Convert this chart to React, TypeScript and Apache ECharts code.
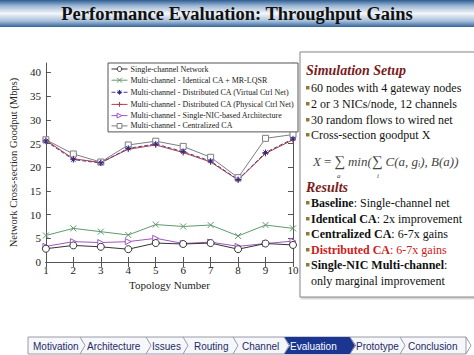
import React, { useEffect, useRef } from "react";
import * as echarts from "echarts";

const topology = [1, 2, 3, 4, 5, 6, 7, 8, 9, 10];
const singleChannel = [2.8, 3.5, 3.2, 2.7, 4.0, 3.8, 4.0, 2.7, 3.9, 3.6];
const identicalCA = [5.6, 7.1, 6.4, 5.7, 7.9, 7.5, 7.8, 5.5, 7.8, 7.1];
const distVirtual = [25.5, 21.6, 20.9, 24.0, 24.9, 23.3, 21.3, 17.4, 23.1, 26.0];
const distPhysical = [25.7, 21.8, 21.0, 23.8, 24.7, 23.1, 21.1, 17.3, 22.9, 25.8];
const singleNIC = [3.3, 4.3, 4.1, 4.3, 5.0, 3.9, 4.2, 3.3, 3.9, 4.4];
const centralized = [25.8, 22.8, 21.1, 24.7, 25.5, 24.4, 22.1, 17.8, 26.1, 26.9];

const seriesNames = [
  "Single-channel Network",
  "Multi-channel - Identical CA + MR-LQSR",
  "Multi-channel - Distributed CA (Virtual Ctrl Net)",
  "Multi-channel - Distributed CA (Physical Ctrl Net)",
  "Multi-channel - Single-NIC-based Architecture",
  "Multi-channel - Centralized CA",
];

const navItems = ["Motivation", "Architecture", "Issues", "Routing", "Channel", "Evaluation", "Prototype", "Conclusion"];
const navTextX = [33, 87, 152, 194, 242, 290, 356, 408];
const navSepX = [80, 146, 183, 233, 284, 350, 400];

const setupLines = [
  "60 nodes with 4 gateway nodes",
  "2 or 3 NICs/node, 12 channels",
  "30 random flows to wired net",
  "Cross-section goodput X",
];

const SERIF = "Liberation Serif";
const SANS = "Liberation Sans";

const pairs = (ys: number[]) => topology.map((x, i) => [x, ys[i]]);

const txt = (x: number, y: number, text: string, o: any = {}) => ({
  type: "text",
  x,
  y,
  z: o.z ?? 5,
  style: {
    text,
    fontFamily: o.family ?? SERIF,
    fontSize: o.size ?? 12,
    fontWeight: o.weight ?? "normal",
    fontStyle: o.style ?? "normal",
    fill: o.fill ?? "#111",
    align: o.align ?? "left",
    verticalAlign: "middle",
    rich: o.rich,
  },
});

export default function App() {
  const ref = useRef<HTMLDivElement>(null);
  useEffect(() => {
    if (!ref.current) return;
    const chart = echarts.init(ref.current, null, { renderer: "svg" });

    const mk = (name: string, data: number[], color: string, symbol: string, extra: any = {}) => ({
      type: "line",
      name,
      data: pairs(data),
      xAxisIndex: 0,
      yAxisIndex: 0,
      symbol,
      symbolSize: 6,
      lineStyle: { color, width: 1 },
      itemStyle: { color: "#fff", borderColor: color, borderWidth: 1 },
      ...extra,
    });

    const bullet = (y: number) => ({ type: "rect", shape: { x: 306, y: y - 2, width: 3.5, height: 3.5 }, style: { fill: "#8c7a3c" } });

    const els: any[] = [];
    const setupY = [88, 104, 120, 135];
    setupLines.forEach((t, i) => {
      els.push(bullet(setupY[i]));
      els.push(txt(311, setupY[i], t));
    });

    const boldRich = {
      b: { fontFamily: SERIF, fontSize: 12, fontWeight: "bold", fill: "#111" },
      r: { fontFamily: SERIF, fontSize: 12, fontWeight: "bold", fill: "#cc2020" },
    };
    const results = [
      { y: 203, text: "{b|Baseline}: Single-channel net", color: "#111" },
      { y: 219, text: "{b|Identical CA}: 2x improvement", color: "#111" },
      { y: 234, text: "{b|Centralized CA}: 6-7x gains", color: "#111" },
      { y: 250, text: "{r|Distributed CA}: 6-7x gains", color: "#cc2020" },
      { y: 265, text: "{b|Single-NIC Multi-channel}:", color: "#111" },
    ];
    results.forEach((r) => {
      els.push(bullet(r.y));
      els.push(txt(311, r.y, r.text, { fill: r.color, rich: boldRich }));
    });
    els.push(txt(311, 281, "only marginal improvement"));

    // formula
    const fi = { fontFamily: SERIF, fontSize: 13, fontStyle: "italic", fill: "#444" };
    els.push(
      txt(313, 161, "{i|X} {n|=} {s|∑} {i|min(}{s|∑} {i|C(a, g}{sub|i}{i|), B(a))}", {
        fill: "#444",
        rich: {
          i: fi,
          n: { fontFamily: SERIF, fontSize: 13, fill: "#444" },
          s: { fontFamily: SERIF, fontSize: 15, fill: "#444" },
          sub: { fontFamily: SERIF, fontSize: 8, fontStyle: "italic", fill: "#444", padding: [6, 0, 0, 0] },
        },
      })
    );
    els.push(txt(337, 176, "a", { size: 7, style: "italic", fill: "#444" }));
    els.push(txt(377, 176, "i", { size: 7, style: "italic", fill: "#444" }));

    const nav: any[] = [
      { type: "rect", shape: { x: 28, y: 337, width: 438, height: 17 }, style: { fill: "#f6f7fb", stroke: "#9a9aa8", lineWidth: 1 } },
      {
        type: "polygon",
        shape: { points: [[284, 337], [350, 337], [356, 345.5], [350, 354], [284, 354], [290, 345.5]] },
        style: { fill: "#1b3690" },
      },
      { type: "polyline", shape: { points: [[466, 337], [471, 345.5], [466, 354]] }, style: { stroke: "#9a9aa8", fill: null, lineWidth: 1 } },
    ];
    navSepX.forEach((sx) => {
      nav.push({ type: "polyline", shape: { points: [[sx, 337], [sx + 5, 345.5], [sx, 354]] }, style: { stroke: "#9a9aa8", fill: null, lineWidth: 1 } });
    });
    navItems.forEach((t, i) => {
      nav.push(txt(navTextX[i], 346, t, { family: SANS, size: 10, fill: t === "Evaluation" ? "#ffffff" : "#1e2a66", z: 10 }));
    });

    const option: any = {
      animation: false,
      backgroundColor: "#ffffff",
      grid: { left: 33, right: 181, top: 63, bottom: 93 },
      xAxis: [
        {
          type: "value",
          min: 1,
          max: 10,
          interval: 1,
          name: "Topology Number",
          nameLocation: "middle",
          nameGap: 12,
          nameTextStyle: { fontFamily: SERIF, fontSize: 11, color: "#222" },
          axisLine: { lineStyle: { color: "#555" } },
          axisTick: { inside: true, length: 5, lineStyle: { color: "#555" } },
          axisLabel: { fontFamily: SERIF, fontSize: 11, color: "#222", margin: 2 },
          splitLine: { show: false },
        },
        {
          type: "value",
          position: "top",
          min: 1,
          max: 10,
          interval: 1,
          axisLine: { lineStyle: { color: "#555" } },
          axisTick: { inside: true, length: 5, lineStyle: { color: "#555" } },
          axisLabel: { show: false },
          splitLine: { show: false },
        },
      ],
      yAxis: [
        {
          type: "value",
          min: 0,
          max: 42,
          interval: 5,
          name: "Network Cross-section Goodput (Mbps)",
          nameLocation: "middle",
          nameGap: 16,
          nameTextStyle: { fontFamily: SERIF, fontSize: 10.5, color: "#222" },
          axisLine: { lineStyle: { color: "#555" } },
          axisTick: { inside: true, length: 5, lineStyle: { color: "#555" } },
          axisLabel: { fontFamily: SERIF, fontSize: 11, color: "#222", margin: 5, showMaxLabel: false },
          splitLine: { show: false },
        },
        {
          type: "value",
          position: "right",
          min: 0,
          max: 42,
          interval: 5,
          axisLine: { show: true, lineStyle: { color: "#555" } },
          axisTick: { show: true, inside: true, length: 5, lineStyle: { color: "#555" } },
          axisLabel: { show: false },
          splitLine: { show: false },
        },
      ],
      legend: {
        orient: "vertical",
        left: 108,
        top: 63,
        backgroundColor: "#ffffff",
        borderColor: "#555",
        borderWidth: 1,
        borderRadius: 0,
        padding: [2, 4, 2, 3],
        itemGap: 2.3,
        itemWidth: 16,
        itemHeight: 6,
        lineStyle: { width: 1 },
        itemStyle: { borderWidth: 1 },
        textStyle: { fontFamily: SERIF, fontSize: 8, color: "#222", padding: [0, 0, 0, -2] },
        data: seriesNames,
      },
      series: [
        mk(seriesNames[5], centralized, "#7d7d85", "rect"),
        mk(seriesNames[3], distPhysical, "#b04048", "path://M5,0L5,10M0,5L10,5", { itemStyle: { color: "none", borderColor: "#b04048", borderWidth: 1 } }),
        mk(seriesNames[2], distVirtual, "#2c2c88", "path://M5,0L5,10M0,5L10,5M1.5,1.5L8.5,8.5M8.5,1.5L1.5,8.5", {
          itemStyle: { color: "none", borderColor: "#2c2c88", borderWidth: 1 },
          lineStyle: { color: "#5a3a90", width: 1, type: [4, 2] },
        }),
        mk(seriesNames[4], singleNIC, "#a055c0", "triangle", { symbolRotate: -90 }),
        mk(seriesNames[1], identicalCA, "#5f9a6e", "path://M0,0L10,10M10,0L0,10", { itemStyle: { color: "none", borderColor: "#5f9a6e", borderWidth: 1 } }),
        mk(seriesNames[0], singleChannel, "#333333", "circle", { symbolSize: 7 }),
      ],
      graphic: [
        {
          type: "rect",
          shape: { x: 0, y: 0, width: 474, height: 27 },
          style: {
            fill: new echarts.graphic.LinearGradient(0, 0, 0, 1, [
              { offset: 0, color: "#2d5d93" },
              { offset: 0.22, color: "#9fb8d4" },
              { offset: 0.5, color: "#f3f6fa" },
              { offset: 0.78, color: "#a7bfd9" },
              { offset: 1, color: "#33659c" },
            ]),
          },
        },
        txt(237, 14, "Performance Evaluation: Throughput Gains", { size: 18.5, weight: "bold", align: "center" }),
        {
          type: "rect",
          shape: { x: 300, y: 52, width: 180, height: 245 },
          style: { fill: "#fff", stroke: "#888", lineWidth: 1, shadowBlur: 2, shadowColor: "rgba(0,0,0,0.3)", shadowOffsetX: 1, shadowOffsetY: 1 },
        },
        txt(306, 70, "Simulation Setup", { size: 14, weight: "bold", style: "italic", fill: "#7a1c1c" }),
        txt(306, 187, "Results", { size: 14, weight: "bold", style: "italic", fill: "#7a1c1c" }),
        ...els,
        ...nav,
      ],
    };
    chart.setOption(option);
    return () => chart.dispose();
  }, []);

  return <div ref={ref} style={{ position: "fixed", left: 0, top: 0, width: 474, height: 355 }} />;
}
